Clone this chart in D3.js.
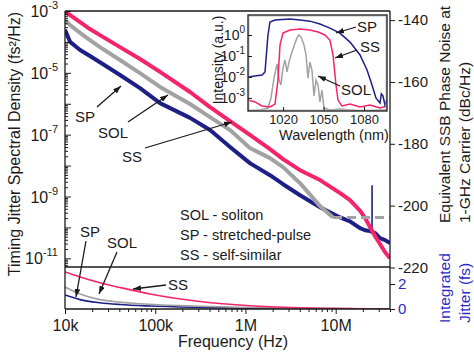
<!DOCTYPE html>
<html><head><meta charset="utf-8">
<script src="https://cdn.jsdelivr.net/npm/d3@7"></script>
<style>body{margin:0;background:#fff}svg{display:block;font-family:"Liberation Sans",Arial,sans-serif}</style>
</head><body><svg id="c" width="474" height="353"></svg>
<script>
// ---------- DATA ----------
// Main panel: timing jitter PSD (fs^2/Hz) vs offset frequency (Hz)
const ssFreq = [1.0e4,1.14e4,1.47e4,1.89e4,2.44e4,4.07e4,6.78e4,1.13e5,2.43e5,4.05e5,6.75e5,1.12e6,1.87e6,2.61e6,4.03e6,6.71e6,1.12e7,1.44e7,1.86e7,2.12e7,2.41e7,2.73e7,3.10e7,3.53e7,4.0e7];
const ssPsd  = [9.3e-4,7.4e-4,4.4e-4,2.6e-4,1.66e-4,6.8e-5,2.8e-5,1.07e-5,2.4e-6,7.8e-7,2.75e-7,9.8e-8,3.4e-8,1.62e-8,7.1e-9,3.4e-9,1.29e-9,7.6e-10,3.5e-10,2.0e-10,1.02e-10,5.2e-11,2.9e-11,1.58e-11,1.0e-11];
const solFreq = [1.0e4,1.14e4,1.47e4,1.89e4,2.44e4,4.07e4,6.78e4,1.13e5,2.43e5,4.05e5,6.75e5,1.12e6,1.87e6,2.61e6,4.03e6,6.71e6,9.35e6];
const solPsd  = [5.1e-4,3.5e-4,1.95e-4,1.15e-4,6.8e-5,2.6e-5,9.8e-6,3.5e-6,9.8e-7,3.7e-7,1.41e-7,3.7e-8,1.74e-8,8.9e-9,2.7e-9,4.9e-10,2.1e-10];
const solFloorFreq = [9.35e6,4.0e7];
const solFloorPsd  = [2.1e-10,2.1e-10];
const spFreq = [1.0e4,1.14e4,1.47e4,1.89e4,2.44e4,4.07e4,6.78e4,1.13e5,2.43e5,4.05e5,6.75e5,1.12e6,1.87e6,2.61e6,4.03e6,6.71e6,1.12e7,1.44e7,1.86e7,2.12e7,2.41e7,2.73e7,3.10e7,3.53e7,4.0e7];
const spPsd  = [2.45e-4,1.0e-4,5.5e-5,3.5e-5,2.2e-5,8.5e-6,3.2e-6,1.05e-6,3.5e-7,1.41e-7,4.0e-8,1.2e-8,4.9e-9,2.5e-9,1.1e-9,4.5e-10,2.1e-10,1.58e-10,9.5e-11,8.1e-11,7.6e-11,6.6e-11,4.5e-11,3.9e-11,3.1e-11];
const spSpikeFreq = [2.53e7,2.53e7];
const spSpikePsd  = [7.6e-11,2.3e-9];

// Lower panel: integrated jitter (fs)
const jitFreq = [1.0e4,1.47e4,2.44e4,4.07e4,8.75e4,3.14e5,1.12e6,4.03e6,1.44e7,4.0e7];
const ssJit   = [2.96,2.56,2.10,1.72,1.20,0.60,0.26,0.10,0.03,0.0];
const solJit  = [1.76,1.20,0.75,0.55,0.38,0.22,0.12,0.06,0.03,0.01];
const spJit   = [1.12,0.75,0.50,0.36,0.24,0.13,0.06,0.03,0.01,0.0];

// Inset: optical spectra, wavelength (nm) and log10 intensity (a.u.)
const spWl  = [994,999.2,1004.4,1006.6,1007.3,1008.8,1010.3,1014,1025.1,1032.5,1039.9,1047.3,1054.7,1062.1,1069.6,1077,1082.2,1085.9,1088.8,1091.8,1092.8,1094,1095.5,1097];
const spLog = [-2.0,-1.95,-1.91,-1.76,-1.19,0.0,0.62,0.71,0.76,0.71,0.66,0.52,0.33,0.09,-0.34,-0.95,-1.67,-2.38,-3.0,-3.24,-2.8,-2.9,-3.34,-3.1];
const ssWl  = [994,999.2,1004.4,1010.3,1014,1016.2,1017.7,1019.9,1025.1,1032.5,1039.9,1045.9,1051.0,1054.7,1057,1059.2,1060.7,1063.6,1069.6,1077,1084.4,1091.8,1097];
const ssLog = [-3.10,-3.19,-3.38,-3.43,-3.29,-2.15,-0.48,0.09,0.24,0.28,0.24,0.14,0.0,-0.24,-0.95,-2.38,-3.10,-3.38,-3.29,-3.43,-3.33,-3.48,-3.38];
const solWl  = [994,1002.9,1008.8,1011.0,1013.3,1015.5,1017.0,1018.4,1019.9,1021.4,1022.9,1024.4,1025.9,1028.1,1030.3,1031.8,1033.3,1035.5,1037.0,1038.4,1039.9,1041.4,1042.9,1044.4,1045.9,1047.3,1048.8,1050.3,1054.7,1062.1,1077.0,1097];
const solLog = [-3.62,-3.57,-3.48,-3.0,-2.05,-1.38,-2.15,-2.38,-1.57,-1.19,-1.76,-1.29,-0.95,-0.53,-0.14,0.0,-0.10,-0.48,-0.95,-2.05,-1.29,-1.67,-2.9,-2.15,-2.38,-3.19,-2.62,-3.48,-3.57,-3.52,-3.62,-3.57];

// Tick labels
const xTickVals = [1e4,1e5,1e6,1e7];
const xTickLabels = ["10k","100k","1M","10M"];
const yLabelExps = [-3,-5,-7,-9,-11];
const dbTicks = [-140,-160,-180,-200,-220];
const jitTicks = [0,2];
const insetXTicks = [1020,1050,1080];
const insetYExps = [0,-1,-2,-3];

// ---------- STYLE / LAYOUT ----------
const C_SS="#f5246a", C_SOL="#a2a2a2", C_SP="#1d1f86", C_BLUE="#2b2bc4", C_TXT="#1a1a1a";
const L=65,R=390,T=11,MB=267,B=309;
const svg=d3.select("#c");

const x=d3.scaleLog().domain([1e4,4e7]).range([L,R]);
const y=d3.scaleLog().domain([Math.pow(10,-11.28),1e-3]).range([MB,T]);
const toDb=s=>10*Math.log10(s*1e-30*Math.pow(2*Math.PI*1e9,2)/2);
const yDb=d3.scaleLinear().domain([toDb(y.domain()[0]),toDb(y.domain()[1])]).range([MB,T]);
const yJ=d3.scaleLinear().domain([0,3.36]).range([B,MB]);

svg.append("defs").html(`
 <clipPath id="mainClip"><rect x="${L}" y="${T}" width="${R-L}" height="${MB-T}"/></clipPath>
 <clipPath id="lowClip"><rect x="${L}" y="${MB}" width="${R-L}" height="${B-MB}"/></clipPath>
 <clipPath id="insClip"><rect x="248" y="15" width="139" height="96"/></clipPath>
 <marker id="ah" viewBox="0 0 10 7" refX="10" refY="3.5" markerWidth="8" markerHeight="5.6" orient="auto" markerUnits="userSpaceOnUse"><path d="M0,0L10,3.5L0,7z" fill="${C_TXT}"/></marker>`);

// main curves
const lineMain=d3.line().x(d=>x(d[0])).y(d=>y(d[1]));
const gMain=svg.append("g").attr("clip-path","url(#mainClip)");
gMain.append("path").datum(d3.zip(spSpikeFreq,spSpikePsd)).attr("d",lineMain)
  .attr("fill","none").attr("stroke",C_SP).attr("stroke-width",1.6);
const series=[[spFreq,spPsd,C_SP],[solFreq,solPsd,C_SOL],[ssFreq,ssPsd,C_SS]];
series.forEach(([f,v,c])=>{
  gMain.append("path").datum(d3.zip(f,v)).attr("d",lineMain).attr("fill","none")
   .attr("stroke",c).attr("stroke-width",4).attr("stroke-linejoin","round");
});
gMain.append("path").datum(d3.zip(solFloorFreq,solFloorPsd)).attr("d",lineMain)
  .attr("fill","none").attr("stroke",C_SOL).attr("stroke-width",3).attr("stroke-dasharray","9,5");

// lower curves
const lineJ=d3.line().x(d=>x(d[0])).y(d=>yJ(d[1])).curve(d3.curveMonotoneX);
const gLow=svg.append("g").attr("clip-path","url(#lowClip)");
[[spJit,C_SP],[solJit,C_SOL],[ssJit,C_SS]].forEach(([v,c])=>{
  gLow.append("path").datum(d3.zip(jitFreq,v)).attr("d",lineJ).attr("fill","none")
   .attr("stroke",c).attr("stroke-width",1.6);
});

// frame
const frame=svg.append("g").attr("stroke",C_TXT).attr("stroke-width",1.3);
frame.append("line").attr("x1",L).attr("x2",R).attr("y1",T).attr("y2",T);
frame.append("line").attr("x1",L).attr("x2",R).attr("y1",MB).attr("y2",MB);
frame.append("line").attr("x1",L).attr("x2",R).attr("y1",B).attr("y2",B);
frame.append("line").attr("x1",L).attr("x2",L).attr("y1",T).attr("y2",B);
frame.append("line").attr("x1",R).attr("x2",R).attr("y1",T).attr("y2",B);

// left axis ticks (inward)
const yMajor=d3.range(-11,-2).map(e=>Math.pow(10,e));
const yMinor=[];
d3.range(-12,-3).forEach(e=>{for(let m=2;m<10;m++){const v=m*Math.pow(10,e);if(v>=y.domain()[0]&&v<=1e-3)yMinor.push(v);}});
const gl=svg.append("g").attr("transform",`translate(${L},0)`);
gl.call(d3.axisLeft(y).tickValues(yMajor).tickSize(-6).tickFormat(""));
gl.call(g=>g.select(".domain").remove());
const gl2=svg.append("g").attr("transform",`translate(${L},0)`);
gl2.call(d3.axisLeft(y).tickValues(yMinor).tickSize(-3).tickFormat(""));
gl2.call(g=>g.select(".domain").remove());
[gl,gl2].forEach(g=>g.selectAll("line").attr("stroke",C_TXT).attr("stroke-width",1));
yLabelExps.forEach(e=>{
  const t=svg.append("text").attr("x",58).attr("y",y(Math.pow(10,e))+6).attr("text-anchor","end")
    .attr("font-size",16).attr("fill",C_TXT);
  t.append("tspan").text("10");
  t.append("tspan").attr("dy",-8).attr("font-size",11).text(String(e));
});

// bottom axis
const xMinor=[];
[4,5,6,7].forEach(e=>{for(let m=2;m<10;m++){const v=m*Math.pow(10,e);if(v<=4e7)xMinor.push(v);}});
const gb=svg.append("g").attr("transform",`translate(0,${B})`);
gb.call(d3.axisBottom(x).tickValues(xTickVals).tickSize(5).tickPadding(6).tickFormat((d,i)=>xTickLabels[i]));
const gb2=svg.append("g").attr("transform",`translate(0,${B})`);
gb2.call(d3.axisBottom(x).tickValues(xMinor).tickSize(3).tickFormat(""));
[gb,gb2].forEach(g=>{g.select(".domain").remove();g.selectAll("line").attr("stroke",C_TXT).attr("stroke-width",1);});
gb.selectAll("text").attr("font-size",16).attr("fill",C_TXT).attr("font-family","Liberation Sans, Arial, sans-serif");

// right dB axis
const gr=svg.append("g").attr("transform",`translate(${R},0)`);
gr.call(d3.axisRight(yDb).tickValues(dbTicks).tickSize(5).tickPadding(3).tickFormat(d=>String(d)));
gr.select(".domain").remove();
gr.selectAll("line").attr("stroke",C_TXT).attr("stroke-width",1);
gr.selectAll("text").attr("font-size",15).attr("fill",C_TXT).attr("font-family","Liberation Sans, Arial, sans-serif");

// right jitter axis
const gj=svg.append("g").attr("transform",`translate(${R},0)`);
gj.call(d3.axisRight(yJ).tickValues(jitTicks).tickSize(5).tickPadding(3).tickFormat(d=>String(d)));
gj.select(".domain").remove();
gj.selectAll("line").attr("stroke",C_TXT).attr("stroke-width",1);
gj.selectAll("text").attr("font-size",15).attr("fill",C_BLUE).attr("font-family","Liberation Sans, Arial, sans-serif");

// axis titles
svg.append("text").attr("transform","translate(20,144) rotate(-90)").attr("text-anchor","middle")
  .attr("font-size",16).attr("fill",C_TXT).text("Timing Jitter Spectral Density (fs²/Hz)");
svg.append("text").attr("x",233).attr("y",347).attr("text-anchor","middle")
  .attr("font-size",16).attr("fill",C_TXT).text("Frequency (Hz)");
svg.append("text").attr("transform","translate(450,223) rotate(-90)").attr("font-size",15.5).attr("fill",C_TXT).text("Equivalent SSB Phase Noise at");
svg.append("text").attr("transform","translate(470,223) rotate(-90)").attr("font-size",15.5).attr("fill",C_TXT).text("1-GHz Carrier (dBc/Hz)");
svg.append("text").attr("transform","translate(450,323) rotate(-90)").attr("font-size",15.5).attr("fill",C_BLUE).text("Integrated");
svg.append("text").attr("transform","translate(470,323) rotate(-90)").attr("font-size",15.5).attr("fill",C_BLUE).text("Jitter (fs)");

// legend text
[["SOL - soliton",220],["SP - stretched-pulse",240],["SS - self-similar",260]].forEach(([t,yy])=>{
  svg.append("text").attr("x",180).attr("y",yy).attr("font-size",14.5).attr("fill",C_TXT).text(t);
});

// annotations
function note(txt,tx,ty,x1,y1,x2,y2){
  svg.append("text").attr("x",tx).attr("y",ty).attr("font-size",15).attr("fill",C_TXT).text(txt);
  svg.append("line").attr("x1",x1).attr("y1",y1).attr("x2",x2).attr("y2",y2)
    .attr("stroke",C_TXT).attr("stroke-width",1.3).attr("marker-end","url(#ah)");
}
note("SP",75,122,97,107,121,86);
note("SOL",98,138,128,122,168,95);
note("SS",122,162,145,148,232,122);
note("SP",80,237,86,241,76,297);
note("SOL",107,248,117,252,99,294);
note("SS",168,290,166,285,133,289);

// ---------- INSET ----------
const ix=d3.scaleLinear().domain([994,1097]).range([248,387]);
const iy=d3.scaleLinear().domain([-3.62,0.952]).range([111,15]);
svg.append("rect").attr("x",248).attr("y",15).attr("width",139).attr("height",96).attr("fill","#fff");
const gIn=svg.append("g").attr("clip-path","url(#insClip)");
const lineIn=d3.line().x(d=>ix(d[0])).y(d=>iy(d[1]));
[[solWl,solLog,C_SOL],[ssWl,ssLog,C_SS],[spWl,spLog,C_SP]].forEach(([w,v,c])=>{
  gIn.append("path").datum(d3.zip(w,v)).attr("d",lineIn).attr("fill","none").attr("stroke",c).attr("stroke-width",1.5);
});
svg.append("rect").attr("x",249).attr("y",16).attr("width",137).attr("height",94).attr("fill","none").attr("stroke","#bdbdbd").attr("stroke-width",1);
svg.append("rect").attr("x",248).attr("y",15).attr("width",139).attr("height",96).attr("fill","none").attr("stroke",C_TXT).attr("stroke-width",1.3);
// inset ticks
const gib=svg.append("g").attr("transform","translate(0,111)");
gib.call(d3.axisBottom(ix).tickValues(insetXTicks).tickSize(-4).tickPadding(4).tickFormat(d=>String(d)));
gib.select(".domain").remove();
gib.selectAll("line").attr("stroke",C_TXT);
gib.selectAll("text").attr("font-size",13).attr("fill",C_TXT).attr("font-family","Liberation Sans, Arial, sans-serif");
const gil=svg.append("g").attr("transform","translate(248,0)");
gil.call(d3.axisLeft(iy).tickValues(insetYExps).tickSize(-4).tickFormat(""));
gil.select(".domain").remove();
gil.selectAll("line").attr("stroke",C_TXT);
insetYExps.forEach(e=>{
  const t=svg.append("text").attr("x",245).attr("y",iy(e)+5).attr("text-anchor","end").attr("font-size",14).attr("fill",C_TXT);
  t.append("tspan").text("10");
  t.append("tspan").attr("dy",-7).attr("font-size",10).text(String(e));
});
svg.append("text").attr("transform","translate(223,60) rotate(-90)").attr("text-anchor","middle").attr("font-size",14).attr("fill",C_TXT).text("Intensity (a.u.)");
svg.append("text").attr("x",334).attr("y",140).attr("text-anchor","middle").attr("font-size",14.5).attr("fill",C_TXT).text("Wavelength (nm)");
note("SP",357,32,356,27,336,33);
note("SS",360,52,357,50,335,58);
note("SOL",341,95,340,86,318,76);
</script></body></html>
